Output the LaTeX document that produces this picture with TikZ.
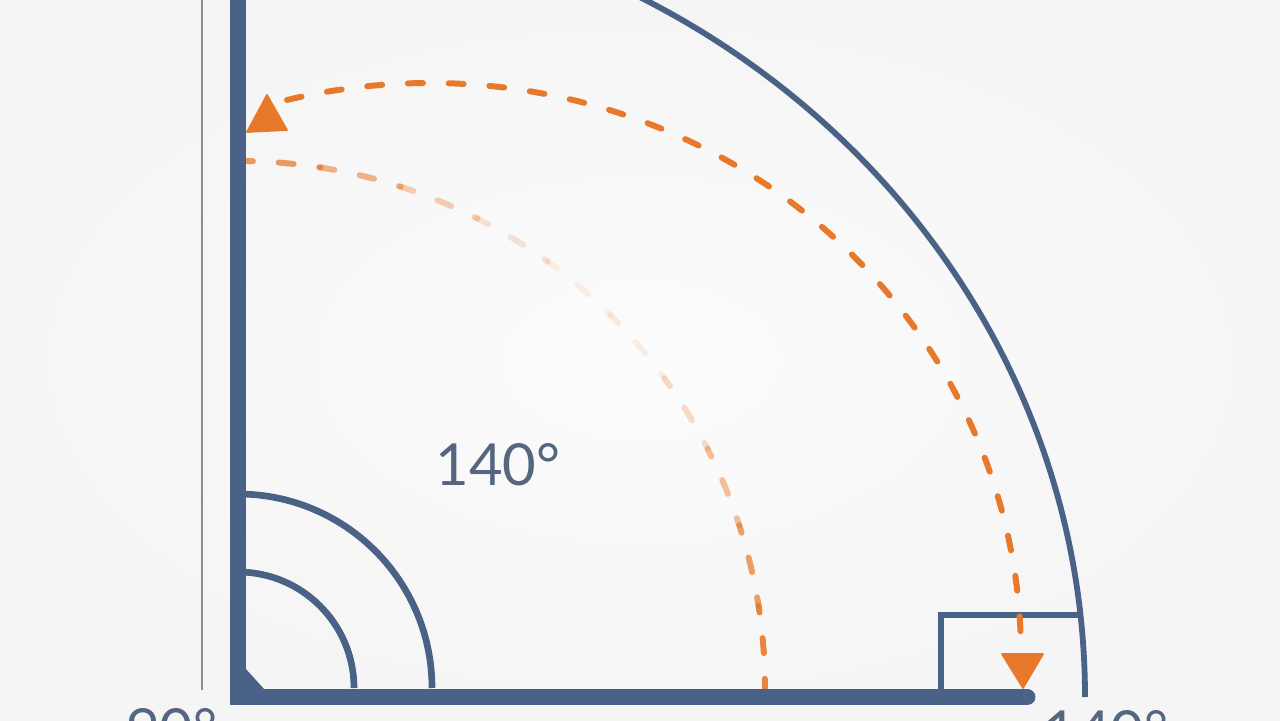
\documentclass[tikz,border=0pt]{standalone}
\usepackage{fontspec}
\newfontfamily\lblfont{Lato}
\definecolor{barblue}{HTML}{4A6288}
\definecolor{arcblue}{HTML}{4B6287}
\definecolor{orangec}{HTML}{E8792A}
\definecolor{bgin}{HTML}{FCFCFC}
\definecolor{bgout}{HTML}{F5F5F5}
\definecolor{txtc}{HTML}{546680}
\definecolor{thingray}{HTML}{8C8C8C}
\begin{document}
\begin{tikzpicture}[x=0.02cm, y=0.02cm,
  bluethick/.style={draw=barblue, line width=9.6pt, line join=miter, line cap=round},
  bluearc/.style={draw=arcblue, line width=3.8pt},
  outerarc/.style={draw=arcblue, line width=3.3pt},
  thinline/.style={draw=thingray, line width=1.1pt},
  orgdash/.style={draw=orangec, line width=3.4pt, line cap=round, dash pattern=on 8.5pt off 14.7pt},
  arrowtri/.style={fill=orangec, draw=orangec, line width=1pt, line join=round},
  lbl/.style={text=txtc, font=\lblfont\fontsize{33}{36}\selectfont, inner sep=0pt, anchor=base}]
\shade[inner color=bgin, outer color=bgout] (0,0) rectangle (1280,720);
\useasboundingbox (0,0) rectangle (1280,720);
\clip (0,0) rectangle (1280,720);
% thin reference line
\draw[thinline] (202,730) -- (202,30);
% inner angle arcs
\draw[bluearc] (354,32) arc[start angle=0, end angle=90, radius=116];
\draw[bluearc] (432,32) arc[start angle=0, end angle=90, radius=194];
% faded dashed arc
\foreach \i/\op in {0/0.75,1/0.55,2/0.35,3/0.18,4/0.1,5/0.12,6/0.25,7/0.45,8/0.7,9/0.9}{
  \pgfmathsetmacro{\sa}{90-9*\i}
  \pgfmathsetmacro{\ea}{81-9*\i}
  \pgfmathsetmacro{\ph}{46.9*\i}
  \draw[orgdash, draw opacity=\op, dash phase=\ph pt] ([shift={(238,32)}]\sa:527) arc[start angle=\sa, end angle=\ea, radius=527];
}
% outer arc
\draw[outerarc] (1085,23) arc[start angle=0, end angle=70, x radius=847, y radius=795];
% right angle box
\draw[outerarc, line join=miter] (941,30) -- (941,105) -- (1082,105);
% dashed arrow arc
\draw[orgdash] (287,620) arc[start angle=104, end angle=0, x radius=591, y radius=572];
% main bars
\draw[bluethick] (238,740) -- (238,23) -- (1027,23);
\fill[barblue] (245,52) -- (245,30) -- (265,30) -- cycle;
% arrowheads
\filldraw[arrowtri] (267,625) -- (247,588) -- (287,590) -- cycle;
\filldraw[arrowtri] (1023,32) -- (1002,66) -- (1043,66) -- cycle;
% labels
\node[lbl] (mid) at (498,235) {140°};
\node[lbl] (left) at (172,-30) {90°};
\node[lbl] (right) at (1106,-32) {140°};
\end{tikzpicture}
\end{document}
